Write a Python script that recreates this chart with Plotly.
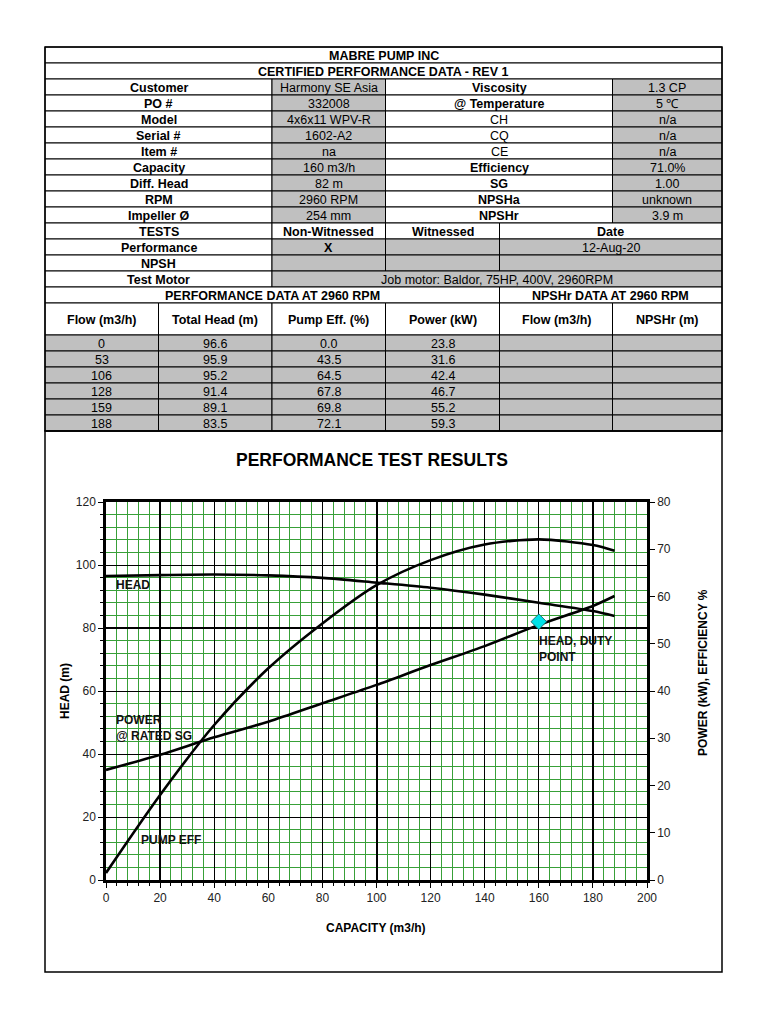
import plotly.graph_objects as go

# ---------------- data ----------------
title1 = "MABRE PUMP INC"
title2 = "CERTIFIED PERFORMANCE DATA - REV 1"
spec_labels = ["Customer", "PO #", "Model", "Serial #", "Item #", "Capacity", "Diff. Head", "RPM", "Impeller Ø"]
spec_values = ["Harmony SE Asia", "332008", "4x6x11 WPV-R", "1602-A2", "na", "160 m3/h", "82 m", "2960 RPM", "254 mm"]
cond_labels = ["Viscosity", "@ Temperature", "CH", "CQ", "CE", "Efficiency", "SG", "NPSHa", "NPSHr"]
cond_bold = [True, True, False, False, False, True, True, True, True]
cond_values = ["1.3 CP", "5 ℃", "n/a", "n/a", "n/a", "71.0%", "1.00", "unknown", "3.9 m"]
tests_header = ["TESTS", "Non-Witnessed", "Witnessed", "Date"]
perf_row = ["Performance", "X", "", "12-Aug-20"]
npsh_row = ["NPSH", "", "", ""]
motor_label = "Test Motor"
motor_value = "Job motor: Baldor, 75HP, 400V, 2960RPM"
section_titles = ["PERFORMANCE DATA AT 2960 RPM", "NPSHr DATA AT 2960 RPM"]
col_headers = ["Flow (m3/h)", "Total Head (m)", "Pump Eff. (%)", "Power (kW)", "Flow (m3/h)", "NPSHr (m)"]
flow = [0, 53, 106, 128, 159, 188]
total_head = [96.6, 95.9, 95.2, 91.4, 89.1, 83.5]
pump_eff = [0.0, 43.5, 64.5, 67.8, 69.8, 72.1]
power_kw = [23.8, 31.6, 42.4, 46.7, 55.2, 59.3]

# curves as drawn on the chart
curve_x = [0, 20, 40, 60, 80, 100, 120, 140, 160, 180, 188]
head_curve = [96.5, 96.8, 97.0, 96.7, 95.9, 94.4, 92.8, 90.6, 88.0, 85.4, 83.8]
eff_curve = [1.5, 18.0, 32.8, 44.8, 54.3, 62.4, 67.7, 71.0, 72.1, 70.9, 69.7]
power_curve = [23.3, 26.5, 30.2, 33.5, 37.4, 41.3, 45.5, 49.5, 54.0, 58.0, 60.1]
duty_x = [160]
duty_y = [82]

chart_title = "PERFORMANCE TEST RESULTS"
x_title = "CAPACITY (m3/h)"
y_title = "HEAD (m)"
y2_title = "POWER (kW), EFFICIENCY %"

# ---------------- layout helpers ----------------
W, H = 768, 1024
FONT = "Liberation Sans, Arial, sans-serif"
GRAY = "#c0c0c0"
GREEN = "#38a038"


def px(x):
    return x / W


def py(y):
    return 1 - y / H


shapes = []
annotations = []


def cell(x0, x1, y0, y1, text="", bold=False, fill="white", size=12.5):
    shapes.append(dict(type="rect", xref="paper", yref="paper",
                       x0=px(x0), x1=px(x1), y0=py(y1), y1=py(y0),
                       fillcolor=fill, line=dict(color="black", width=1), layer="above"))
    if text != "":
        annotations.append(dict(xref="paper", yref="paper",
                                x=px((x0 + x1) / 2), y=py((y0 + y1) / 2 + 0.5),
                                xanchor="center", yanchor="middle", showarrow=False,
                                text=f"<b>{text}</b>" if bold else text,
                                font=dict(family=FONT, size=size, color="black")))


L, R = 45, 722
C = [45, 158.5, 272, 385.5, 499.5, 612.5, 722]
TOP = 47
RH = 16


def ry(i):
    return TOP + RH * i


cell(L, R, ry(0), ry(1), title1, bold=True)
cell(L, R, ry(1), ry(2), title2, bold=True)
for k in range(len(spec_labels)):
    y0, y1 = ry(2 + k), ry(3 + k)
    cell(C[0], C[2], y0, y1, spec_labels[k], bold=True)
    cell(C[2], C[3], y0, y1, spec_values[k], fill=GRAY)
    cell(C[3], C[5], y0, y1, cond_labels[k], bold=cond_bold[k])
    cell(C[5], C[6], y0, y1, cond_values[k], fill=GRAY)

spans4 = [(C[0], C[2]), (C[2], C[3]), (C[3], C[4]), (C[4], C[6])]
for j, (a, b) in enumerate(spans4):
    cell(a, b, ry(11), ry(12), tests_header[j], bold=True)
for j, (a, b) in enumerate(spans4):
    cell(a, b, ry(12), ry(13), perf_row[j], bold=(j < 2), fill="white" if j == 0 else GRAY)
for j, (a, b) in enumerate(spans4):
    cell(a, b, ry(13), ry(14), npsh_row[j], bold=True, fill="white" if j == 0 else GRAY)
cell(C[0], C[2], ry(14), ry(15), motor_label, bold=True)
cell(C[2], C[6], ry(14), ry(15), motor_value, fill=GRAY)
cell(C[0], C[4], ry(15), ry(16), section_titles[0], bold=True)
cell(C[4], C[6], ry(15), ry(16), section_titles[1], bold=True)
hy0, hy1 = ry(16), ry(16) + 2 * RH
for j in range(6):
    cell(C[j], C[j + 1], hy0, hy1, col_headers[j], bold=True)
for k in range(len(flow)):
    y0, y1 = hy1 + RH * k, hy1 + RH * (k + 1)
    vals = [f"{flow[k]}", f"{total_head[k]:.1f}", f"{pump_eff[k]:.1f}", f"{power_kw[k]:.1f}", "", ""]
    for j in range(6):
        cell(C[j], C[j + 1], y0, y1, vals[j], fill=GRAY)

table_bottom = hy1 + RH * len(flow)
# outer borders
shapes.append(dict(type="rect", xref="paper", yref="paper", x0=px(L), x1=px(R),
                   y0=py(table_bottom), y1=py(TOP), line=dict(color="black", width=1.5)))
shapes.append(dict(type="rect", xref="paper", yref="paper", x0=px(L), x1=px(R),
                   y0=py(972), y1=py(table_bottom), line=dict(color="black", width=1.5)))

# chart texts
annotations.append(dict(xref="paper", yref="paper", x=px(372), y=py(460), xanchor="center",
                        yanchor="middle", showarrow=False, text=f"<b>{chart_title}</b>",
                        font=dict(family=FONT, size=17.5, color="black")))
annotations.append(dict(xref="paper", yref="paper", x=px(376), y=py(928), xanchor="center",
                        yanchor="middle", showarrow=False, text=f"<b>{x_title}</b>",
                        font=dict(family=FONT, size=12, color="black")))
annotations.append(dict(xref="paper", yref="paper", x=px(65), y=py(691), xanchor="center",
                        yanchor="middle", showarrow=False, textangle=-90, text=f"<b>{y_title}</b>",
                        font=dict(family=FONT, size=12, color="black")))
annotations.append(dict(xref="paper", yref="paper", x=px(703), y=py(673), xanchor="center",
                        yanchor="middle", showarrow=False, textangle=-90, text=f"<b>{y2_title}</b>",
                        font=dict(family=FONT, size=12, color="black")))

lab_font = dict(family=FONT, size=12, color="#111")
annotations.append(dict(xref="x", yref="y", x=3.0, y=93.7, xanchor="left", yanchor="middle",
                        showarrow=False, text="<b>HEAD</b>", font=lab_font))
annotations.append(dict(xref="x", yref="y", x=3.0, y=48.3, xanchor="left", yanchor="middle",
                        showarrow=False, text="<b>POWER<br>@ RATED SG</b>", font=lab_font, align="left"))
annotations.append(dict(xref="x", yref="y", x=12.3, y=12.7, xanchor="left", yanchor="middle",
                        showarrow=False, text="<b>PUMP EFF</b>", font=lab_font))
annotations.append(dict(xref="x", yref="y", x=159.5, y=73.3, xanchor="left", yanchor="middle",
                        showarrow=False, text="<b>HEAD, DUTY<br>POINT</b>", font=lab_font, align="left"))

# ---------------- figure ----------------
fig = go.Figure()
line_style = dict(color="black", width=2.6, shape="spline", smoothing=0.8)
fig.add_trace(go.Scatter(x=curve_x, y=head_curve, mode="lines", line=line_style,
                         xaxis="x", yaxis="y", name="HEAD", hoverinfo="skip"))
fig.add_trace(go.Scatter(x=curve_x, y=eff_curve, mode="lines", line=line_style,
                         xaxis="x", yaxis="y2", name="PUMP EFF", hoverinfo="skip"))
fig.add_trace(go.Scatter(x=curve_x, y=power_curve, mode="lines", line=line_style,
                         xaxis="x", yaxis="y2", name="POWER", hoverinfo="skip"))
fig.add_trace(go.Scatter(x=duty_x, y=duty_y, mode="markers", xaxis="x3", yaxis="y3",
                         marker=dict(symbol="diamond", size=12, color="#00e1e8",
                                     line=dict(color="#1f6f73", width=1)),
                         name="HEAD, DUTY POINT", hoverinfo="skip"))

dom_x = [px(106), px(647)]
dom_y = [py(880), py(502)]
tickfont = dict(family=FONT, size=12, color="#222")

fig.update_layout(
    width=W, height=H, margin=dict(l=0, r=0, t=0, b=0, autoexpand=False),
    paper_bgcolor="white", plot_bgcolor="white", showlegend=False,
    shapes=shapes, annotations=annotations,
    xaxis=dict(domain=dom_x, range=[0, 200], tick0=0, dtick=20, showgrid=True,
               gridcolor="black", gridwidth=1, zeroline=False, automargin=False,
               minor=dict(dtick=4, showgrid=True, gridcolor=GREEN, gridwidth=1,
                          ticks="outside", ticklen=3, tickcolor="black"),
               ticks="outside", ticklen=5, tickcolor="black", showline=True,
               linecolor="black", linewidth=2.5, mirror=True, tickfont=tickfont,
               anchor="y", fixedrange=True),
    yaxis=dict(domain=dom_y, range=[0, 120], tick0=0, dtick=20, showgrid=True,
               gridcolor="black", gridwidth=1, zeroline=False, automargin=False,
               minor=dict(dtick=4, showgrid=True, gridcolor=GREEN, gridwidth=1,
                          ticks="outside", ticklen=3, tickcolor="black"),
               ticks="outside", ticklen=5, tickcolor="black", showline=True,
               linecolor="black", linewidth=2.5, mirror=True, tickfont=tickfont,
               anchor="x", fixedrange=True),
    yaxis2=dict(overlaying="y", side="right", range=[0, 80], tick0=0, dtick=10,
                showgrid=False, zeroline=False, ticks="outside", ticklen=5, automargin=False,
                tickcolor="black", showline=True, linecolor="black", linewidth=2.5,
                tickfont=tickfont, anchor="x", fixedrange=True),
    xaxis3=dict(overlaying="x", range=[0, 200], tickvals=[20, 100, 180], automargin=False,
                showticklabels=False, ticks="", showgrid=True, gridcolor="black",
                gridwidth=2.2, zeroline=False, showline=False, anchor="y3", fixedrange=True),
    yaxis3=dict(overlaying="y", range=[0, 120], tickvals=[80], showticklabels=False,
                ticks="", showgrid=True, gridcolor="black", gridwidth=2.2, automargin=False,
                zeroline=False, showline=False, anchor="x3", fixedrange=True),
)

fig.write_html("out.html", config={"displayModeBar": False},
               post_script="document.body.style.margin='0';document.body.style.overflow='hidden';")
